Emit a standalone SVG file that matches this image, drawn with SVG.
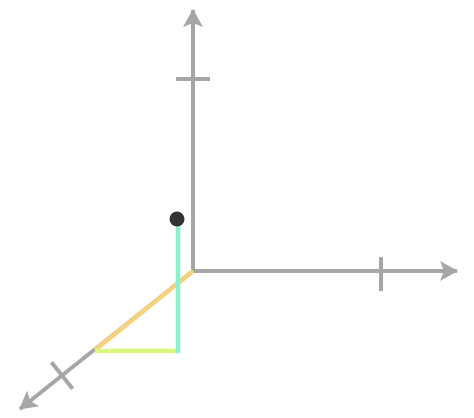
<svg xmlns="http://www.w3.org/2000/svg" width="474" height="418" viewBox="0 0 474 418">
<defs>
<marker id="arr" markerUnits="userSpaceOnUse" viewBox="0 0 18 20" markerWidth="18" markerHeight="20" refX="17" refY="10" orient="auto">
<path d="M0,0 L18,10 L0,20 L4,10 z" fill="#a6a6a6"/>
</marker>
<style>
.ax{stroke:#a6a6a6;stroke-width:4;fill:none}
.tk{stroke:#a6a6a6;stroke-width:4}
</style>
</defs>
<rect width="474" height="418" fill="#ffffff"/>
<g id="connectors">
<line class="ax" x1="193" y1="271" x2="193" y2="10" marker-end="url(#arr)"/>
<line class="ax" x1="193" y1="271" x2="457" y2="271" marker-end="url(#arr)"/>
<line class="ax" x1="193" y1="271" x2="20" y2="409" marker-end="url(#arr)"/>
<line class="tk" x1="176" y1="79" x2="210" y2="79"/>
<line class="tk" x1="381" y1="257" x2="381" y2="291"/>
<line class="tk" x1="51.4" y1="362.2" x2="72.6" y2="388.8"/>
<line x1="193" y1="271" x2="95" y2="350" stroke="#f7d27e" stroke-width="4.5"/>
<line x1="95" y1="351" x2="178" y2="351" stroke="#d9f77c" stroke-width="4.5"/>
<line x1="178" y1="353" x2="178" y2="220" stroke="#8af0cf" stroke-width="4.5"/>
</g>
<g id="point">
<circle cx="177" cy="219" r="7.5" fill="#333333"/>
</g>
</svg>
